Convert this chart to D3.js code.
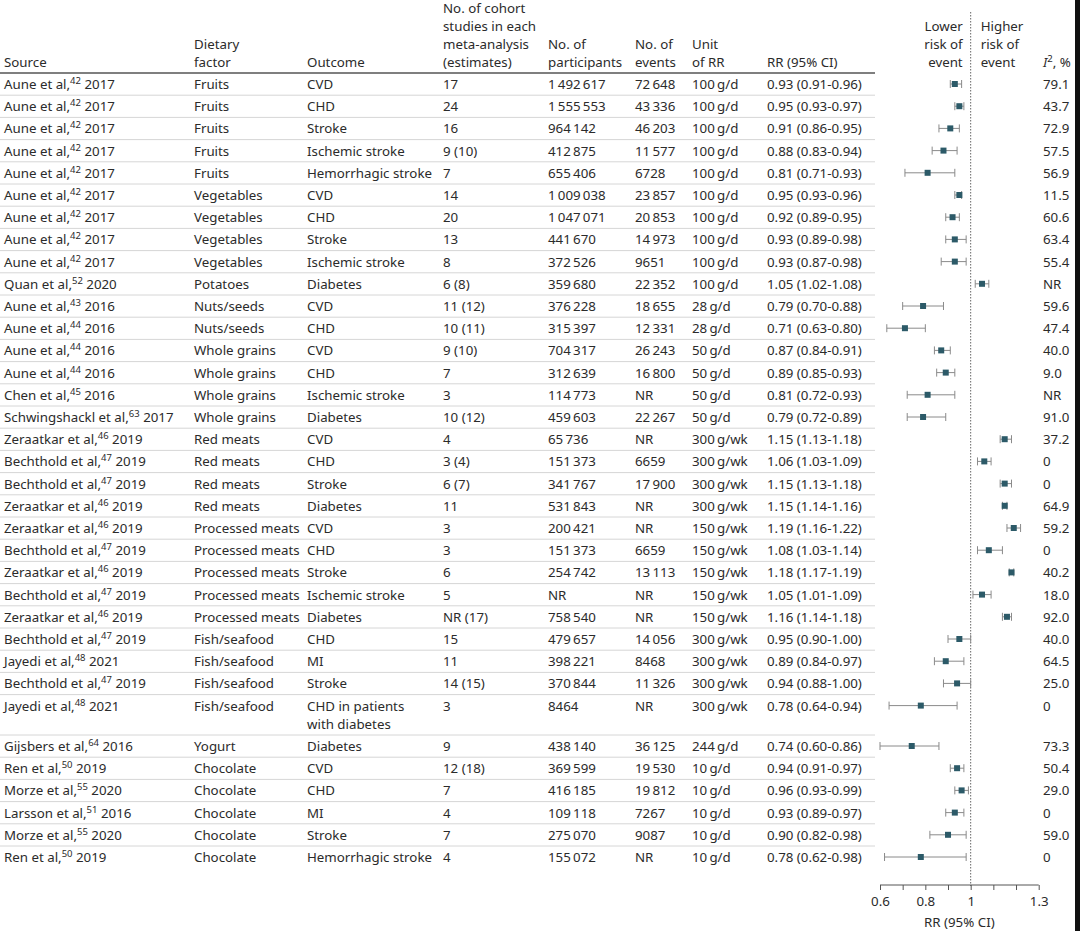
<!DOCTYPE html>
<html>
<head>
<meta charset="utf-8">
<script src="https://cdn.jsdelivr.net/npm/d3@7"></script>
<style>
  html, body { margin: 0; padding: 0; background: #fff; }
  svg text { font-family: "Noto Sans", "Liberation Sans", sans-serif; font-size: 13.3px; fill: #2b2b2b; }
</style>
</head>
<body>
<div id="vis"></div>
<script>
// data
var authors = ["Aune et al", "Aune et al", "Aune et al", "Aune et al", "Aune et al",
    "Aune et al", "Aune et al", "Aune et al", "Aune et al", "Quan et al",
    "Aune et al", "Aune et al", "Aune et al", "Aune et al", "Chen et al",
    "Schwingshackl et al", "Zeraatkar et al", "Bechthold et al", "Bechthold et al", "Zeraatkar et al",
    "Zeraatkar et al", "Bechthold et al", "Zeraatkar et al", "Bechthold et al", "Zeraatkar et al",
    "Bechthold et al", "Jayedi et al", "Bechthold et al", "Jayedi et al", "Gijsbers et al",
    "Ren et al", "Morze et al", "Larsson et al", "Morze et al", "Ren et al"];
var refs = [42, 42, 42, 42, 42, 42, 42, 42, 42, 52,
    43, 44, 44, 44, 45, 63, 46, 47, 47, 46,
    46, 47, 46, 47, 46, 47, 48, 47, 48, 64,
    50, 55, 51, 55, 50];
var years = [2017, 2017, 2017, 2017, 2017, 2017, 2017, 2017, 2017, 2020,
    2016, 2016, 2016, 2016, 2016, 2017, 2019, 2019, 2019, 2019,
    2019, 2019, 2019, 2019, 2019, 2019, 2021, 2019, 2021, 2016,
    2019, 2020, 2016, 2020, 2019];
var factors = ["Fruits", "Fruits", "Fruits", "Fruits", "Fruits",
    "Vegetables", "Vegetables", "Vegetables", "Vegetables", "Potatoes",
    "Nuts/seeds", "Nuts/seeds", "Whole grains", "Whole grains", "Whole grains",
    "Whole grains", "Red meats", "Red meats", "Red meats", "Red meats",
    "Processed meats", "Processed meats", "Processed meats", "Processed meats", "Processed meats",
    "Fish/seafood", "Fish/seafood", "Fish/seafood", "Fish/seafood", "Yogurt",
    "Chocolate", "Chocolate", "Chocolate", "Chocolate", "Chocolate"];
var outcomes = ["CVD", "CHD", "Stroke", "Ischemic stroke", "Hemorrhagic stroke",
    "CVD", "CHD", "Stroke", "Ischemic stroke", "Diabetes",
    "CVD", "CHD", "CVD", "CHD", "Ischemic stroke",
    "Diabetes", "CVD", "CHD", "Stroke", "Diabetes",
    "CVD", "CHD", "Stroke", "Ischemic stroke", "Diabetes",
    "CHD", "MI", "Stroke", "CHD in patients\nwith diabetes", "Diabetes",
    "CVD", "CHD", "MI", "Stroke", "Hemorrhagic stroke"];
var studies = ["17", "24", "16", "9 (10)", "7", "14", "20", "13", "8", "6 (8)",
    "11 (12)", "10 (11)", "9 (10)", "7", "3", "10 (12)", "4", "3 (4)", "6 (7)", "11",
    "3", "3", "6", "5", "NR (17)", "15", "11", "14 (15)", "3", "9",
    "12 (18)", "7", "4", "7", "4"];
var participants = [1492617, 1555553, 964142, 412875, 655406, 1009038, 1047071, 441670, 372526, 359680,
    376228, 315397, 704317, 312639, 114773, 459603, 65736, 151373, 341767, 531843,
    200421, 151373, 254742, null, 758540, 479657, 398221, 370844, 8464, 438140,
    369599, 416185, 109118, 275070, 155072];
var events = [72648, 43336, 46203, 11577, 6728, 23857, 20853, 14973, 9651, 22352,
    18655, 12331, 26243, 16800, null, 22267, null, 6659, 17900, null,
    null, 6659, 13113, null, null, 14056, 8468, 11326, null, 36125,
    19530, 19812, 7267, 9087, null];
var units = ["100 g/d", "100 g/d", "100 g/d", "100 g/d", "100 g/d", "100 g/d", "100 g/d", "100 g/d", "100 g/d", "100 g/d",
    "28 g/d", "28 g/d", "50 g/d", "50 g/d", "50 g/d", "50 g/d", "300 g/wk", "300 g/wk", "300 g/wk", "300 g/wk",
    "150 g/wk", "150 g/wk", "150 g/wk", "150 g/wk", "150 g/wk", "300 g/wk", "300 g/wk", "300 g/wk", "300 g/wk", "244 g/d",
    "10 g/d", "10 g/d", "10 g/d", "10 g/d", "10 g/d"];
var rr = [0.93, 0.95, 0.91, 0.88, 0.81, 0.95, 0.92, 0.93, 0.93, 1.05,
    0.79, 0.71, 0.87, 0.89, 0.81, 0.79, 1.15, 1.06, 1.15, 1.15,
    1.19, 1.08, 1.18, 1.05, 1.16, 0.95, 0.89, 0.94, 0.78, 0.74,
    0.94, 0.96, 0.93, 0.90, 0.78];
var lo = [0.91, 0.93, 0.86, 0.83, 0.71, 0.93, 0.89, 0.89, 0.87, 1.02,
    0.70, 0.63, 0.84, 0.85, 0.72, 0.72, 1.13, 1.03, 1.13, 1.14,
    1.16, 1.03, 1.17, 1.01, 1.14, 0.90, 0.84, 0.88, 0.64, 0.60,
    0.91, 0.93, 0.89, 0.82, 0.62];
var hi = [0.96, 0.97, 0.95, 0.94, 0.93, 0.96, 0.95, 0.98, 0.98, 1.08,
    0.88, 0.80, 0.91, 0.93, 0.93, 0.89, 1.18, 1.09, 1.18, 1.16,
    1.22, 1.14, 1.19, 1.09, 1.18, 1.00, 0.97, 1.00, 0.94, 0.86,
    0.97, 0.99, 0.97, 0.98, 0.98];
var i2 = ["79.1", "43.7", "72.9", "57.5", "56.9", "11.5", "60.6", "63.4", "55.4", "NR",
    "59.6", "47.4", "40.0", "9.0", "NR", "91.0", "37.2", "0", "0", "64.9",
    "59.2", "0", "40.2", "18.0", "92.0", "40.0", "64.5", "25.0", "0", "73.3",
    "50.4", "29.0", "0", "59.0", "0"];
var axisTicks = [0.6, 0.7, 0.8, 0.9, 1, 1.1, 1.2, 1.3];
var axisLabels = [0.6, 0.8, 1, 1.3];

// layout
var width = 1080, height = 931;
var headerY = 73, rowH = 22.2, lineH = 18.2;
var colX = { source: 4, factor: 194, outcome: 307, studies: 443, part: 548, events: 635, unit: 692, rr: 767, i2: 1043 };

function fmtCount(n)
{
    if(n == null) return "NR";
    if(n < 10000) return String(n);
    return d3.format(",")(n).replace(/,/g, "\u2009");
}

var rows = authors.map(function(a, i) {
    var lines = outcomes[i].split("\n");
    return {
        i: i, author: a, ref: refs[i], year: years[i], factor: factors[i], outcome: lines,
        studies: studies[i], part: fmtCount(participants[i]), events: fmtCount(events[i]),
        unit: units[i], rr: rr[i], lo: lo[i], hi: hi[i], i2: i2[i],
        h: rowH + (lines.length - 1) * lineH
    };
});
var tops = d3.cumsum([0].concat(rows.map(function(d) { return d.h; })));
rows.forEach(function(d, i) { d.top = headerY + tops[i]; d.cy = d.top + 11; });

var svg = d3.select("#vis").append("svg")
    .attr("width", width)
    .attr("height", height);

var x = d3.scaleLinear().domain([0.6, 1.3]).range([880, 1038.7]);

// header
var header = [
    { x: colX.source, lines: ["Source"] },
    { x: colX.factor, lines: ["Dietary", "factor"] },
    { x: colX.outcome, lines: ["Outcome"] },
    { x: colX.studies, lines: ["No. of cohort", "studies in each", "meta-analysis", "(estimates)"] },
    { x: colX.part, lines: ["No. of", "participants"] },
    { x: colX.events, lines: ["No. of", "events"] },
    { x: colX.unit, lines: ["Unit", "of RR"] },
    { x: colX.rr, lines: ["RR (95% CI)"] },
    { x: x(1) - 8, lines: ["Lower", "risk of", "event"], anchor: "end" },
    { x: x(1) + 10, lines: ["Higher", "risk of", "event"] }
];
header.forEach(function(h) {
    var n = h.lines.length;
    h.lines.forEach(function(t, k) {
        svg.append("text")
            .attr("x", h.x)
            .attr("y", 66.5 - (n - 1 - k) * 18)
            .attr("text-anchor", h.anchor || "start")
            .text(t);
    });
});
var i2Head = svg.append("text").attr("x", colX.i2).attr("y", 66.5);
i2Head.append("tspan").attr("font-style", "italic").text("I");
i2Head.append("tspan").attr("font-size", "9.5px").attr("dy", -5).text("2");
i2Head.append("tspan").attr("dy", 5).text(", %");

// rules
svg.append("line")
    .attr("x1", 0).attr("x2", 875)
    .attr("y1", headerY).attr("y2", headerY)
    .attr("stroke", "#555").attr("stroke-width", 1.5);

svg.selectAll(".sep")
    .data(rows.slice(0, -1))
    .enter().append("line")
    .attr("class", "sep")
    .attr("x1", 0).attr("x2", 875)
    .attr("y1", function(d) { return d.top + d.h; })
    .attr("y2", function(d) { return d.top + d.h; })
    .attr("stroke", "#d6d6d6").attr("stroke-width", 1);

// null line
svg.append("line")
    .attr("x1", x(1)).attr("x2", x(1))
    .attr("y1", 12).attr("y2", 886)
    .attr("stroke", "#666").attr("stroke-width", 1)
    .attr("stroke-dasharray", "1.5,1.5");

// table text
var rowG = svg.selectAll(".row")
    .data(rows)
    .enter().append("g")
    .attr("class", "row")
    .attr("transform", function(d) { return "translate(0," + (d.cy + 5) + ")"; });

var src = rowG.append("text").attr("x", colX.source);
src.append("tspan").text(function(d) { return d.author + ","; });
src.append("tspan").attr("font-size", "9.5px").attr("dy", -5).text(function(d) { return d.ref; });
src.append("tspan").attr("dy", 5).text(function(d) { return " " + d.year; });

rowG.append("text").attr("x", colX.factor).text(function(d) { return d.factor; });
rowG.append("text").attr("x", colX.outcome)
    .each(function(d) {
        var t = d3.select(this);
        d.outcome.forEach(function(s, k) {
            t.append("tspan").attr("x", colX.outcome).attr("dy", k == 0 ? 0 : lineH).text(s);
        });
    });
rowG.append("text").attr("x", colX.studies).text(function(d) { return d.studies; });
rowG.append("text").attr("x", colX.part).text(function(d) { return d.part; });
rowG.append("text").attr("x", colX.events).text(function(d) { return d.events; });
rowG.append("text").attr("x", colX.unit).text(function(d) { return d.unit.replace(" ", "\u2009"); });
rowG.append("text").attr("x", colX.rr)
    .text(function(d) { return d.rr.toFixed(2) + " (" + d.lo.toFixed(2) + "-" + d.hi.toFixed(2) + ")"; });
rowG.append("text").attr("x", colX.i2).text(function(d) { return d.i2; });

// forest marks
var fg = svg.selectAll(".ci")
    .data(rows)
    .enter().append("g")
    .attr("class", "ci");
fg.append("line")
    .attr("x1", function(d) { return x(d.lo); })
    .attr("x2", function(d) { return x(d.hi); })
    .attr("y1", function(d) { return d.cy; })
    .attr("y2", function(d) { return d.cy; })
    .attr("stroke", "#8a8a8a").attr("stroke-width", 1);
[function(d) { return d.lo; }, function(d) { return d.hi; }].forEach(function(f) {
    fg.append("line")
        .attr("x1", function(d) { return x(f(d)); })
        .attr("x2", function(d) { return x(f(d)); })
        .attr("y1", function(d) { return d.cy - 4; })
        .attr("y2", function(d) { return d.cy + 4; })
        .attr("stroke", "#8a8a8a").attr("stroke-width", 1);
});
fg.append("rect")
    .attr("x", function(d) { return x(d.rr) - 3; })
    .attr("y", function(d) { return d.cy - 3; })
    .attr("width", 6).attr("height", 6)
    .attr("fill", "#2c5a68");

// axis
var axisY = 885;
var axis = d3.axisBottom(x)
    .tickValues(axisTicks)
    .tickSize(5)
    .tickFormat(function(d) { return axisLabels.indexOf(d) >= 0 ? d3.format("")(d) : ""; });
var ag = svg.append("g")
    .attr("transform", "translate(0," + axisY + ")")
    .call(axis);
ag.select(".domain").attr("stroke", "#555").attr("d", "M" + x(0.6) + ",0H" + x(1.3));
ag.selectAll(".tick line").attr("stroke", "#555");
ag.selectAll(".tick text")
    .attr("y", 12)
    .style("font-family", "\"Noto Sans\", sans-serif")
    .style("font-size", "13.3px")
    .attr("fill", "#2b2b2b");
svg.append("text")
    .attr("x", (x(0.6) + x(1.3)) / 2)
    .attr("y", 927)
    .attr("text-anchor", "middle")
    .text("RR (95% CI)");

// right edge strip
svg.append("rect")
    .attr("x", 1075).attr("y", 0)
    .attr("width", 5).attr("height", height)
    .attr("fill", "#111");
</script>
</body>
</html>
